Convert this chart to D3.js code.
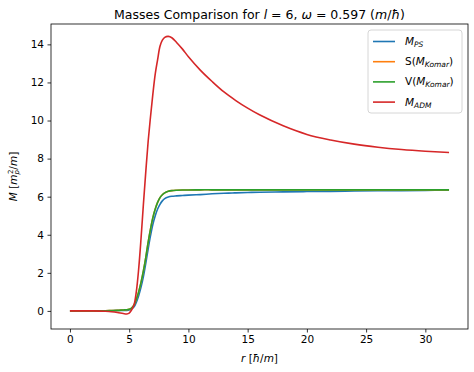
<!DOCTYPE html>
<html>
<head>
<meta charset="utf-8">
<script src="https://cdn.jsdelivr.net/npm/d3@7"></script>
<style>
  body { margin: 0; background: #fff; }
  svg { font-family: "DejaVu Sans", sans-serif; }
</style>
</head>
<body>
<div id="chart"></div>
<script>
// radius values (r in hbar/m)
var rVals = [0, 1, 2, 3, 3.5, 4, 4.5, 4.8, 5, 5.2, 5.4, 5.6, 5.8, 6, 6.2, 6.4, 6.6, 6.8, 7, 7.2, 7.4, 7.6, 7.8, 8, 8.3, 8.6, 9, 9.5, 10, 11, 12, 13, 14, 15, 16, 18, 20, 22, 24, 26, 28, 30, 32];

var mPS = [0, 0, 0, 0.01, 0.01, 0.02, 0.03, 0.03, 0.05, 0.1, 0.2, 0.45, 0.8, 1.25, 1.8, 2.5, 3.25, 3.95, 4.55, 5.0, 5.35, 5.6, 5.78, 5.9, 5.98, 6.02, 6.04, 6.06, 6.08, 6.11, 6.15, 6.18, 6.2, 6.22, 6.23, 6.25, 6.27, 6.28, 6.3, 6.31, 6.32, 6.33, 6.34];

var sKomar = [0, 0, 0, 0.01, 0.02, 0.03, 0.05, 0.06, 0.09, 0.15, 0.3, 0.6, 1.0, 1.5, 2.1, 2.8, 3.6, 4.3, 4.9, 5.35, 5.7, 5.95, 6.1, 6.2, 6.28, 6.32, 6.34, 6.35, 6.35, 6.36, 6.36, 6.36, 6.36, 6.36, 6.36, 6.36, 6.36, 6.36, 6.36, 6.36, 6.36, 6.36, 6.36];

var vKomar = [0, 0, 0, 0.01, 0.02, 0.03, 0.05, 0.06, 0.09, 0.15, 0.3, 0.6, 1.0, 1.5, 2.1, 2.8, 3.6, 4.3, 4.9, 5.35, 5.7, 5.95, 6.1, 6.2, 6.28, 6.32, 6.34, 6.35, 6.35, 6.36, 6.36, 6.36, 6.36, 6.36, 6.36, 6.36, 6.36, 6.36, 6.36, 6.36, 6.36, 6.36, 6.36];

var mADM = [0, 0, 0, -0.02, -0.04, -0.08, -0.14, -0.16, -0.12, 0.05, 0.3, 1.0, 2.2, 3.8, 5.6, 7.3, 8.9, 10.2, 11.4, 12.45, 13.2, 13.9, 14.22, 14.37, 14.42, 14.35, 14.1, 13.75, 13.35, 12.65, 12.05, 11.5, 11.05, 10.65, 10.3, 9.72, 9.27, 8.98, 8.76, 8.6, 8.48, 8.39, 8.32];

var xTicks = [0, 5, 10, 15, 20, 25, 30];
var yTicks = [0, 2, 4, 6, 8, 10, 12, 14];

var series = [
  { key: "ps", vals: mPS, color: "#1f77b4" },
  { key: "s", vals: sKomar, color: "#ff7f0e" },
  { key: "v", vals: vKomar, color: "#2ca02c" },
  { key: "adm", vals: mADM, color: "#d62728" }
];

var svgWidth = 474, svgHeight = 372;
var margin = { top: 24, right: 6, bottom: 43, left: 51 };
var width = svgWidth - margin.left - margin.right;
var height = svgHeight - margin.top - margin.bottom;

var svg = d3.select("#chart").append("svg")
  .attr("width", svgWidth)
  .attr("height", svgHeight);

var g = svg.append("g")
  .attr("transform", "translate(" + margin.left + "," + margin.top + ")");

var x = d3.scaleLinear().domain([-1.6, 33.6]).range([0, width]);
var y = d3.scaleLinear().domain([-0.95, 15.07]).range([height, 0]);

// lines
var line = d3.line()
  .x(function (d) { return x(d[0]); })
  .y(function (d) { return y(d[1]); })
  .curve(d3.curveCatmullRom.alpha(0.5));

series.forEach(function (s) {
  g.append("path")
    .datum(rVals.map(function (r, i) { return [r, s.vals[i]]; }))
    .attr("fill", "none")
    .attr("stroke", s.color)
    .attr("stroke-width", 1.6)
    .attr("d", line);
});

// axes
var xAxis = g.append("g")
  .attr("transform", "translate(0," + height + ")")
  .call(d3.axisBottom(x).tickValues(xTicks).tickSize(3.5).tickPadding(3.5));
var yAxis = g.append("g")
  .call(d3.axisLeft(y).tickValues(yTicks).tickSize(3.5).tickPadding(3.5));

[xAxis, yAxis].forEach(function (a) {
  a.select(".domain").remove();
  a.selectAll("line").attr("stroke", "#000").attr("stroke-width", 0.8);
  a.selectAll("text").attr("font-size", 10.5).attr("fill", "#000")
    .attr("font-family", "DejaVu Sans");
});

// frame
g.append("rect")
  .attr("width", width).attr("height", height)
  .attr("fill", "none").attr("stroke", "#000").attr("stroke-width", 0.8);

// title
var title = svg.append("text")
  .attr("x", margin.left + width / 2)
  .attr("y", 19)
  .attr("text-anchor", "middle")
  .attr("font-size", 12.5);
title.append("tspan").text("Masses Comparison for ");
title.append("tspan").attr("font-style", "italic").text("l");
title.append("tspan").text(" = 6, ");
title.append("tspan").attr("font-style", "italic").text("ω");
title.append("tspan").text(" = 0.597 (");
title.append("tspan").attr("font-style", "italic").text("m");
title.append("tspan").text("/");
title.append("tspan").attr("font-style", "italic").text("ħ");
title.append("tspan").text(")");

// x label
var xl = svg.append("text")
  .attr("x", margin.left + width / 2)
  .attr("y", 362)
  .attr("text-anchor", "middle")
  .attr("font-size", 10.5);
xl.append("tspan").attr("font-style", "italic").text("r");
xl.append("tspan").text(" [");
xl.append("tspan").attr("font-style", "italic").text("ħ");
xl.append("tspan").text("/");
xl.append("tspan").attr("font-style", "italic").text("m");
xl.append("tspan").text("]");

// y label
var yl = svg.append("text")
  .attr("transform", "translate(17," + (margin.top + height / 2) + ") rotate(-90)")
  .attr("text-anchor", "middle")
  .attr("font-size", 10.5);
yl.append("tspan").attr("font-style", "italic").text("M");
yl.append("tspan").text(" [");
yl.append("tspan").attr("font-style", "italic").text("m");
yl.append("tspan").attr("font-style", "italic").attr("font-size", 7).attr("dy", 2).text("p");
yl.append("tspan").attr("font-size", 7).attr("dy", -6).attr("dx", -4).text("2");
yl.append("tspan").attr("dy", 4).text("/");
yl.append("tspan").attr("font-style", "italic").text("m");
yl.append("tspan").text("]");

// legend
var legend = svg.append("g").attr("transform", "translate(368,30)");
legend.append("rect")
  .attr("width", 94).attr("height", 83)
  .attr("rx", 3)
  .attr("fill", "#fff").attr("fill-opacity", 0.8)
  .attr("stroke", "#ccc").attr("stroke-width", 0.8);

var labels = [
  [{ t: "M", it: true }, { t: "PS", it: true, sub: true }],
  [{ t: "S(" }, { t: "M", it: true }, { t: "Komar", it: true, sub: true }, { t: ")", up: true }],
  [{ t: "V(" }, { t: "M", it: true }, { t: "Komar", it: true, sub: true }, { t: ")", up: true }],
  [{ t: "M", it: true }, { t: "ADM", it: true, sub: true }]
];

series.forEach(function (s, i) {
  var ly = 11.5 + i * 20.2;
  legend.append("line")
    .attr("x1", 5).attr("x2", 27)
    .attr("y1", ly).attr("y2", ly)
    .attr("stroke", s.color).attr("stroke-width", 1.6);
  var t = legend.append("text")
    .attr("x", 37).attr("y", ly + 3.5)
    .attr("font-size", 10.5);
  labels[i].forEach(function (p) {
    var sp = t.append("tspan").text(p.t);
    if (p.it) sp.attr("font-style", "italic");
    if (p.sub) sp.attr("font-size", 7.5).attr("dy", 2);
    if (p.up) sp.attr("dy", -2);
  });
});
</script>
</body>
</html>
